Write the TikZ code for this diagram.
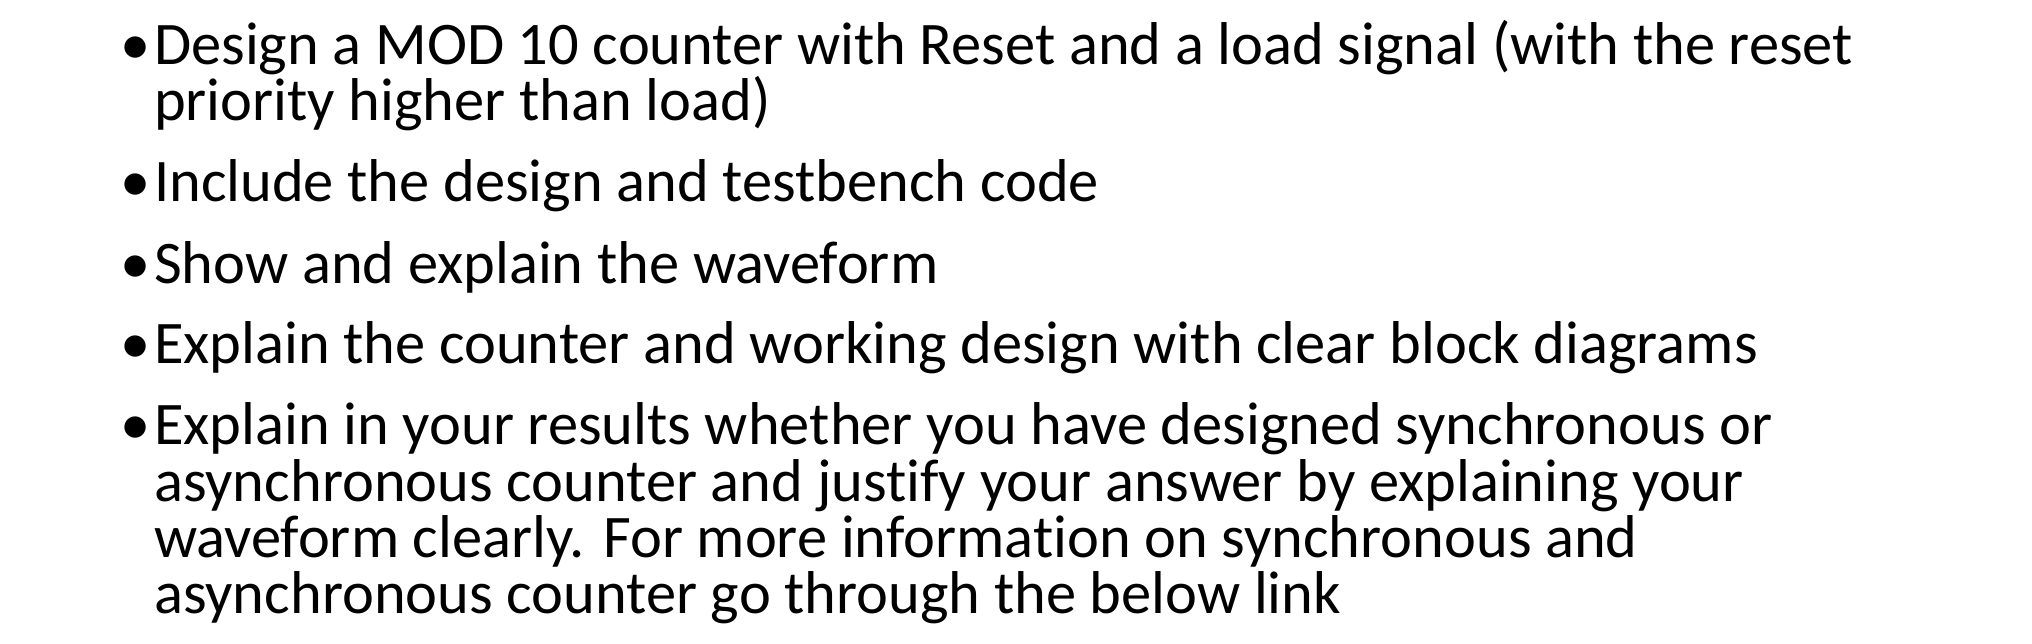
\documentclass[tikz,border=0pt]{standalone}
\usepackage{fontspec}
\setmainfont[Ligatures=NoCommon]{Carlito}
\begin{document}
\begin{tikzpicture}[
  ln/.style={anchor=base west, inner sep=0pt, font=\fontsize{17.2}{17.2}\selectfont},
  bl/.style={anchor=base west, inner sep=0pt, font=\fontsize{17.2}{17.2}\selectfont}]
\useasboundingbox (0,0) rectangle (20.32,6.44);
\node[bl] (b1) at (1.2,5.79) {•};
\node[ln] (l1) at (1.534,5.79) {Design a MOD 10 counter with Reset and a load signal (with the reset};
\node[ln] (l2) at (1.534,5.23) {priority higher than load)};
\node[bl] (b2) at (1.2,4.425) {•};
\node[ln] (l3) at (1.534,4.425) {Include the design and testbench code};
\node[bl] (b3) at (1.2,3.606) {•};
\node[ln] (l4) at (1.534,3.606) {Show and explain the waveform};
\node[bl] (b4) at (1.2,2.80) {•};
\node[ln] (l5) at (1.534,2.80) {Explain the counter and working design with clear block diagrams};
\node[bl] (b5) at (1.2,1.994) {•};
\node[ln] (l6) at (1.534,1.994) {Explain in your results whether you have designed synchronous or};
\node[ln] (l7) at (1.534,1.422) {asynchronous counter and justify your answer by explaining your};
\node[ln] (l8) at (1.534,0.863) {waveform clearly. For more information on synchronous and};
\node[ln] (l9) at (1.534,0.304) {asynchronous counter go through the below link};
\end{tikzpicture}
\end{document}
